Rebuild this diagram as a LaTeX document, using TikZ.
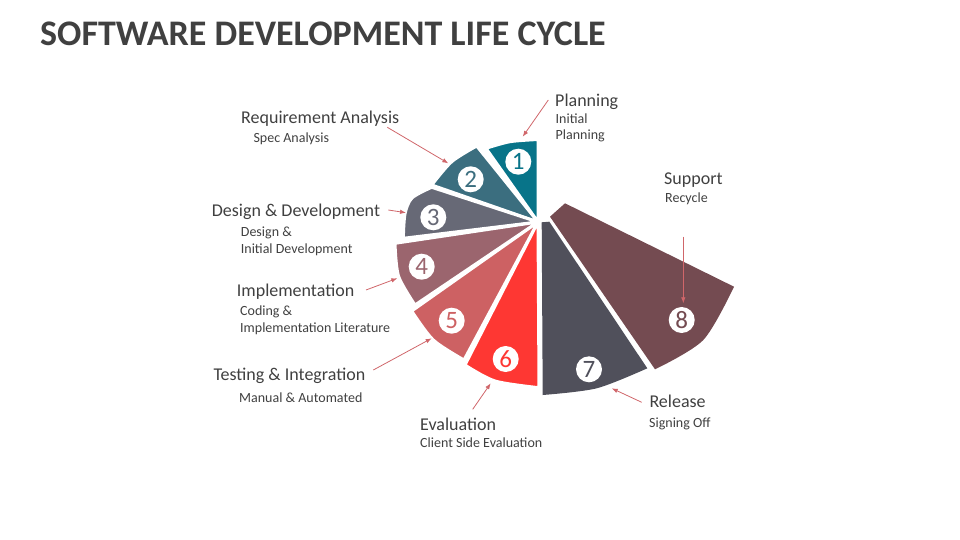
\documentclass[tikz,border=0pt]{standalone}
\usepackage{fontspec}
\setmainfont{Carlito}
\usetikzlibrary{arrows.meta}

\definecolor{txt}{HTML}{404040}
\definecolor{arr}{HTML}{D0666A}
\definecolor{cone}{HTML}{087489}
\definecolor{ctwo}{HTML}{3B6E7F}
\definecolor{cthree}{HTML}{676976}
\definecolor{cfour}{HTML}{9B656E}
\definecolor{cfive}{HTML}{CD6163}
\definecolor{csix}{HTML}{FE3733}
\definecolor{cseven}{HTML}{50505B}
\definecolor{ceight}{HTML}{744B51}

\begin{document}
\begin{tikzpicture} [x=1pt, y=-1pt,
  seg/.style={draw=white, line width=3pt, line join=round},
  numdot/.style={circle, fill=white, inner sep=0pt, minimum size=26pt, font=\fontsize{25}{25}\selectfont},
  lbl/.style={anchor=base west, inner sep=0pt, text=txt, font=\fontsize{18}{20}\selectfont},
  sublbl/.style={anchor=base west, inner sep=0pt, text=txt, font=\fontsize{14}{16}\selectfont},
  pointer/.style={draw=arr, line width=0.8pt, -{Latex[length=6pt,width=4.5pt]}}]
\useasboundingbox (0,0) rectangle (960,540);
\node[anchor=base west, inner sep=0pt, text=txt, font=\fontsize{36}{36}\selectfont\bfseries] (title) at (40,46) {SOFTWARE DEVELOPMENT LIFE CYCLE};

\coordinate (c) at (538,222);
\fill[cone, seg] (c) -- plot[smooth] coordinates {(538,139.5) (510,141.7) (486,148.3)} -- cycle;
\fill[ctwo, seg] (c) -- plot[smooth] coordinates {(476.7,146) (451.7,161.7) (431.7,185)} -- cycle;
\fill[cthree, seg] (c) -- plot[smooth] coordinates {(431.7,187.3) (412,198) (405,214) (403.3,238.3)} -- cycle;
\fill[cfour, seg] (c) -- plot[smooth] coordinates {(395,243.3) (398.5,276) (415,305)} -- cycle;
\fill[cfive, seg] (c) -- plot[smooth] coordinates {(411.7,311) (433.3,340) (464,360)} -- cycle;
\fill[csix, seg] (c) -- plot[smooth] coordinates {(465,365) (495,381) (539,387.7)} -- cycle;
\fill[cseven] (541.7,222.3) -- (549.3,221.7) -- plot[smooth] coordinates {(647.3,368.3) (596.7,388.3) (542.7,395)} -- cycle;
\fill[ceight] (550,216.7) -- (565,203.3) -- plot[smooth] coordinates {(734,286.7) (703.3,340) (655,369.3)} -- cycle;

\node[numdot, text=cone] (n1) at (518.3,161.7) {1};
\node[numdot, text=ctwo] (n2) at (470.7,179.3) {2};
\node[numdot, text=cthree] (n3) at (433.3,217.3) {3};
\node[numdot, text=cfour] (n4) at (421.7,266.7) {4};
\node[numdot, text=cfive] (n5) at (451.7,320.7) {5};
\node[numdot, text=csix] (n6) at (505.7,359) {6};
\node[numdot, text=cseven] (n7) at (589,369.3) {7};
\node[numdot, text=ceight] (n8) at (681.7,320) {8};

\node[lbl] (plan) at (555,106.7) {Planning};
\node[sublbl] (plana) at (555.5,123.3) {Initial};
\node[sublbl] (planb) at (555.5,140) {Planning};
\node[lbl] (req) at (241,123.3) {Requirement Analysis};
\node[sublbl] (reqa) at (253.3,142.7) {Spec Analysis};
\node[lbl] (des) at (211.7,216) {Design \& Development};
\node[sublbl] (desa) at (240.7,236.7) {Design \&};
\node[sublbl] (desb) at (240.7,253.3) {Initial Development};
\node[lbl] (imp) at (236.7,296) {Implementation};
\node[sublbl] (impa) at (240,315) {Coding \&};
\node[sublbl] (impb) at (240,332.3) {Implementation Literature};
\node[lbl] (test) at (213.3,380) {Testing \& Integration};
\node[sublbl] (testa) at (239,402.3) {Manual \& Automated};
\node[lbl] (eval) at (420,430) {Evaluation};
\node[sublbl] (evala) at (420,447.3) {Client Side Evaluation};
\node[lbl] (rel) at (649.3,407.7) {Release};
\node[sublbl] (rela) at (649,427.3) {Signing Off};
\node[lbl] (sup) at (664,184.7) {Support};
\node[sublbl] (supa) at (665,202.7) {Recycle};

\coordinate (t1) at (548.3,100);   \coordinate (h1) at (522.7,136.7);
\coordinate (t2) at (387.3,127.3); \coordinate (h2) at (448.3,163.3);
\coordinate (t3) at (388.3,210);   \coordinate (h3) at (406,212.7);
\coordinate (t4) at (366,290);     \coordinate (h4) at (397.3,278.3);
\coordinate (t5) at (373.3,370);   \coordinate (h5) at (431.7,338.3);
\coordinate (t6) at (472.7,409.3); \coordinate (h6) at (490.7,383.3);
\coordinate (t7) at (641.7,402.3); \coordinate (h7) at (611.7,388.3);
\coordinate (t8) at (683.3,236.7); \coordinate (h8) at (683.3,303.3);
\foreach \i in {1,...,8}
  \draw[pointer] (t\i) -- (h\i);
\end{tikzpicture}
\end{document}
